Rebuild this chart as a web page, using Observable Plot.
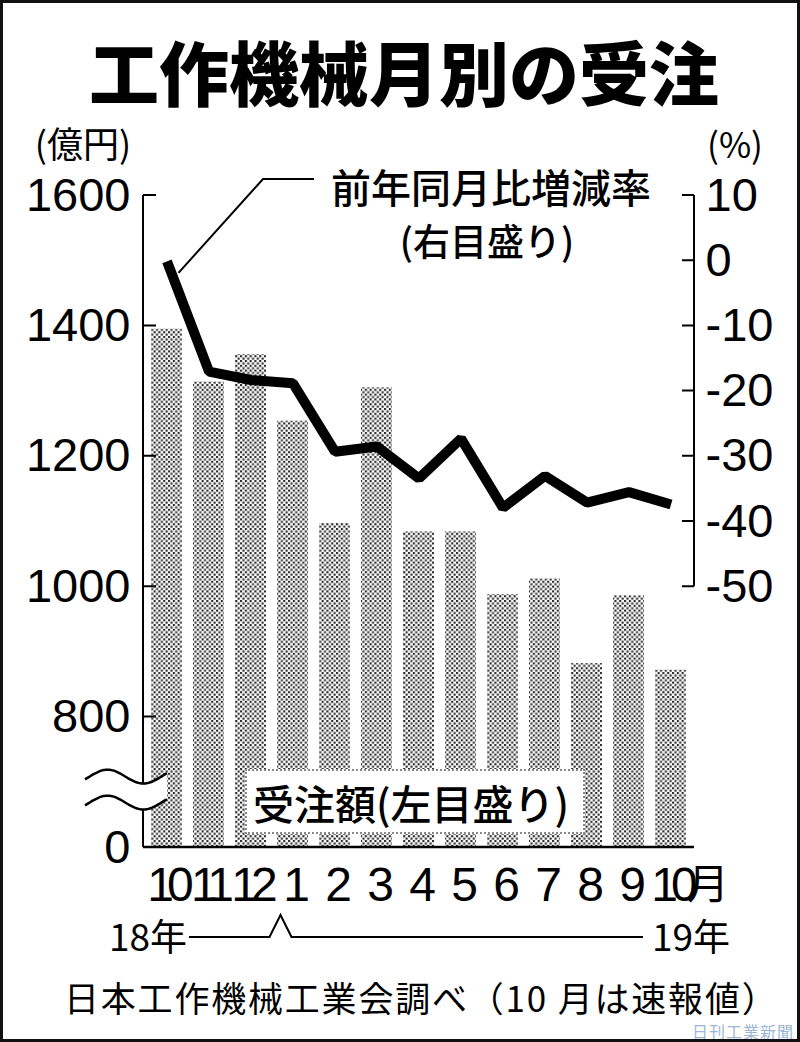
<!DOCTYPE html>
<html><head><meta charset="utf-8">
<script src="https://cdn.jsdelivr.net/npm/d3@7"></script>
<script src="https://cdn.jsdelivr.net/npm/@observablehq/plot@0.6"></script>
<style>
html,body{margin:0;padding:0;background:#fff;}
#page{position:relative;width:800px;height:1042px;overflow:hidden;background:#fff;font-family:"Noto Sans CJK JP",sans-serif;color:#000;}
#frame{position:absolute;left:0;top:0;width:800px;height:1042px;box-sizing:border-box;border:3px solid #111;pointer-events:none;z-index:10;}
.t{position:absolute;white-space:nowrap;line-height:1;transform:translate(-50%,-50%);}
#chart{position:absolute;left:0;top:0;}
#box{position:absolute;left:245px;top:769px;width:340px;height:65px;box-sizing:border-box;background:#fff;border:2px dotted #888;}
</style></head><body>
<div id="page">
 <div id="chart"></div>
 <div class="t" style="left:404px;top:71px;font-size:70px;font-weight:900;">工作機械月別の受注</div>
 <div class="t" style="left:83px;top:142px;font-size:36px;">(億円)</div>
 <div class="t" style="left:735px;top:142px;font-size:35px;">(%)</div>
 <div class="t" style="left:491px;top:186px;font-size:40px;font-weight:500;">前年同月比増減率</div>
 <div class="t" style="left:487px;top:240px;font-size:37px;font-weight:500;">(右目盛り)</div>
 <div id="box"></div>
 <div class="t" style="left:411px;top:802px;font-size:41px;font-weight:500;">受注額(左目盛り)</div>
 <div class="t" style="left:148px;top:935px;font-size:37px;">18年</div>
 <div class="t" style="left:691px;top:935px;font-size:37px;">19年</div>
 <div class="t" style="left:64px;top:996px;font-size:35px;letter-spacing:1.8px;transform:translate(0,-50%);">日本工作機械工業会調べ（10 月は速報値）</div>
 <div class="t" style="left:auto;right:6px;top:1031px;font-size:16px;letter-spacing:1px;color:#9cb6d6;transform:translate(0,-50%);">日刊工業新聞</div>
 <div id="frame"></div>
</div>
<script>
// ---- data ----
const months = ["2018-10","2018-11","2018-12","2019-01","2019-02","2019-03","2019-04","2019-05","2019-06","2019-07","2019-08","2019-09","2019-10"];
const monthLabels = ["10","11","12","1","2","3","4","5","6","7","8","9","10"];
const orders = [1395, 1314, 1356, 1254, 1097, 1305, 1084, 1084, 988, 1012, 882, 986, 872]; // 億円
const yoy = [-0.1, -17.0, -18.3, -18.8, -29.3, -28.5, -33.4, -27.3, -37.9, -33.0, -37.1, -35.5, -37.4]; // %
const leftTicks = [600, 800, 1000, 1200, 1400, 1600];
const leftTickLabels = ["0", "800", "1000", "1200", "1400", "1600"];
const rightTicks = [10, 0, -10, -20, -30, -40, -50];

// right-axis (%) mapped onto the left-axis value space
const pctToY = d3.scaleLinear([-50, 10], [1000, 1600]);
const data = months.map((m, i) => ({month: m, orders: orders[i], yoy: yoy[i]}));

const chart = Plot.plot({
  width: 800, height: 1042,
  marginTop: 195, marginBottom: 195, marginLeft: 143, marginRight: 106,
  style: {fontFamily: "'Liberation Sans', Arial, sans-serif", color: "#000", background: "transparent", overflow: "visible"},
  x: {type: "band", domain: months, paddingInner: 0.272, paddingOuter: 0.106},
  y: {domain: [600, 1600]},
  marks: [
    Plot.barY(data, {x: "month", y1: 600, y2: "orders", fill: "url(#dots)"}),
    Plot.line(data, {x: "month", y: d => pctToY(d.yoy), stroke: "#000", strokeWidth: 10, strokeLinejoin: "miter", strokeLinecap: "butt"}),
    Plot.axisY(leftTicks, {anchor: "left", tickSize: 0, tickPadding: 13, tickFormat: d => leftTickLabels[leftTicks.indexOf(d)], fontSize: 47, label: null}),
    Plot.axisY(rightTicks.map(p => pctToY(p)), {anchor: "right", tickSize: 0, tickPadding: 11, tickFormat: d => String(Math.round(pctToY.invert(d))), fontSize: 47, label: null}),
    Plot.axisX({tickSize: 0, tickPadding: 19, tickFormat: d => monthLabels[months.indexOf(d)], fontSize: 48, label: null}),
    Plot.text([months[months.length - 1]], {x: d => d, frameAnchor: "bottom", lineAnchor: "middle", text: () => "月", dx: 16, dy: 38, textAnchor: "start", fontSize: 42, fontFamily: "Noto Sans CJK JP"})
  ]
});
document.getElementById("chart").appendChild(chart);

// ---- decorations ----
const svg = d3.select(chart);
const defs = svg.insert("defs", ":first-child");
const P = 4.8;
const pat = defs.append("pattern").attr("id", "dots").attr("patternUnits", "userSpaceOnUse").attr("width", P).attr("height", P);
pat.append("rect").attr("width", P).attr("height", P).attr("fill", "#fff");
pat.append("rect").attr("x", 0).attr("y", 0).attr("width", 2.1).attr("height", 2.1).attr("fill", "#2a2a2a");
pat.append("rect").attr("x", P / 2).attr("y", P / 2).attr("width", 2.1).attr("height", 2.1).attr("fill", "#2a2a2a");

svg.selectAll('g[aria-label="x-axis tick label"] text').style("letter-spacing", "-7px");

const sx = chart.scale("x"), sy = chart.scale("y");
const L = sx.range[0], R = sx.range[1];
const cx = m => sx.apply(m) + sx.bandwidth / 2;
const yv = v => sy.apply(v);
const g = svg.append("g").attr("fill", "none").attr("stroke", "#000");

// left axis
g.append("path").attr("stroke-width", 2).attr("d", `M${L},${yv(1600)}V${yv(600)}`);
g.append("path").attr("stroke-width", 2).attr("d", leftTicks.filter(t => t !== 600).map(t => `M${L},${yv(t)}h13`).join(""));
// baseline
g.append("path").attr("stroke-width", 2.5).attr("d", `M${L},${yv(600)}H${R}`);
// right axis
g.append("path").attr("stroke-width", 2).attr("d", `M${R},${yv(pctToY(10))}V${yv(pctToY(-50))}`);
g.append("path").attr("stroke-width", 2).attr("d", rightTicks.map(p => `M${R},${yv(pctToY(p))}h-12`).join(""));

// axis break symbol
const yb = yv(800) + 0.56 * (yv(600) - yv(800));
const wa = L - 58, wlen = 82;
const wave = (y0) => d3.range(0, 41).map(i => {
  const t = i / 40, th = -0.4 + t * (2 * Math.PI + 0.9);
  return [wa + t * wlen, y0 - 7 * Math.sin(th)];
});
const waveTop = wave(yb - 13), waveBot = wave(yb + 13);
svg.append("path").attr("fill", "#fff").attr("stroke", "none").attr("d", d3.line()(waveTop.concat(waveBot.slice().reverse())) + "Z");
svg.append("path").attr("fill", "none").attr("stroke", "#000").attr("stroke-width", 2.5).attr("d", d3.line().curve(d3.curveBasis)(waveTop));
svg.append("path").attr("fill", "none").attr("stroke", "#000").attr("stroke-width", 2.5).attr("d", d3.line().curve(d3.curveBasis)(waveBot));

// leader line for the line series
const lx0 = cx(months[0]), ly0 = yv(pctToY(yoy[0]));
g.append("path").attr("stroke-width", 2).attr("d", `M${lx0 + 12},${ly0 + 12}L263,179H314`);

// year bracket under the x axis
const cc = cx(months[3]) - 12;
g.append("path").attr("stroke-width", 2).attr("d", `M189,937H${cc - 11}L${cc},915L${cc + 11},937H643`);
</script>
</body></html>
